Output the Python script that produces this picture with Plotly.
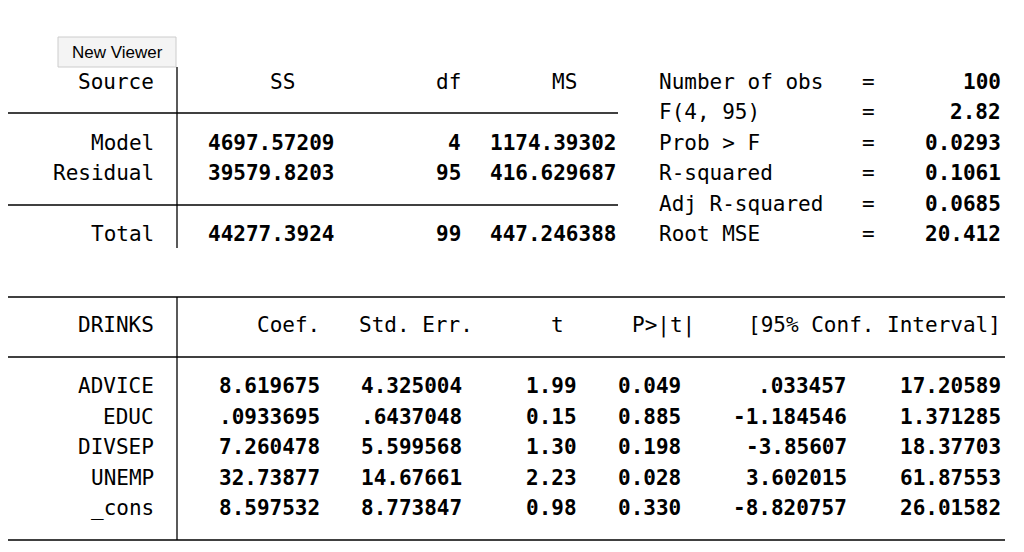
import plotly.graph_objects as go

command = ". reg DRINKS ADVICE EDUC DIVSEP UNEMP"
anova_sources = ["Model", "Residual", "Total"]
anova_ss = ["4697.57209", "39579.8203", "44277.3924"]
anova_df = ["4", "95", "99"]
anova_ms = ["1174.39302", "416.629687", "447.246388"]
stat_labels = ["Number of obs", "F(4, 95)", "Prob > F", "R-squared", "Adj R-squared", "Root MSE"]
stat_values = ["100", "2.82", "0.0293", "0.1061", "0.0685", "20.412"]
coef_vars = ["ADVICE", "EDUC", "DIVSEP", "UNEMP", "_cons"]
coef = ["8.619675", ".0933695", "7.260478", "32.73877", "8.597532"]
std_err = ["4.325004", ".6437048", "5.599568", "14.67661", "8.773847"]
t_vals = ["1.99", "0.15", "1.30", "2.23", "0.98"]
p_vals = ["0.049", "0.885", "0.198", "0.028", "0.330"]
ci_low = [".033457", "-1.184546", "-3.85607", "3.602015", "-8.820757"]
ci_high = ["17.20589", "1.371285", "18.37703", "61.87553", "26.01582"]

MONO = "DejaVu Sans Mono"
FS = 21
fig = go.Figure()
ann = []
def t(x, y, s, anchor="right", bold=False, size=FS, font=MONO):
    ann.append(dict(x=x, y=y, text=f"<b>{s}</b>" if bold else s, xanchor=anchor, yanchor="middle",
                    showarrow=False, font=dict(family=font, size=size, color="black"), xref="x", yref="y"))

t(4, 20, command, anchor="left", bold=True)
t(156, 82, "Source"); t(297, 82, "SS"); t(463, 82, "df"); t(579, 82, "MS")
anova_y = [143, 173, 234]
for i, y in enumerate(anova_y):
    t(156, y, anova_sources[i])
    t(336, y, anova_ss[i], bold=True)
    t(463, y, anova_df[i], bold=True)
    t(618, y, anova_ms[i], bold=True)
for i, (lab, val) in enumerate(zip(stat_labels, stat_values)):
    y = 82 + i * 30.4
    t(657, y, lab, anchor="left")
    t(868, y, "=", anchor="center")
    t(1003, y, val, bold=True)
t(156, 325, "DRINKS"); t(322, 325, "Coef."); t(475, 325, "Std. Err."); t(566, 325, "t")
t(697, 325, "P>|t|"); t(1003, 325, "[95% Conf. Interval]")
for i in range(len(coef_vars)):
    y = 386 + i * 30.5
    t(156, y, coef_vars[i])
    t(322, y, coef[i], bold=True)
    t(464, y, std_err[i], bold=True)
    t(579, y, t_vals[i], bold=True)
    t(683, y, p_vals[i], bold=True)
    t(849, y, ci_low[i], bold=True)
    t(1003, y, ci_high[i], bold=True)

t(117, 52, "New Viewer", anchor="center", size=17, font="Liberation Sans")

shapes = [
    dict(type="rect", x0=58, x1=176, y0=37, y1=67, fillcolor="#f4f4f4", line=dict(color="#cccccc", width=1), layer="below"),
    dict(type="line", x0=0, x1=618, y0=113, y1=113),
    dict(type="line", x0=0, x1=618, y0=205, y1=205),
    dict(type="line", x0=177, x1=177, y0=67, y1=248),
    dict(type="line", x0=0, x1=1005, y0=297, y1=297),
    dict(type="line", x0=0, x1=1005, y0=357, y1=357),
    dict(type="line", x0=0, x1=1005, y0=540, y1=540),
    dict(type="line", x0=177, x1=177, y0=297, y1=540),
]
for s in shapes:
    s.setdefault("line", dict(color="black", width=1.3))
    s["xref"] = "x"; s["yref"] = "y"

fig.update_layout(width=1024, height=552, margin=dict(l=0, r=0, t=0, b=0),
                  plot_bgcolor="white", paper_bgcolor="white",
                  xaxis=dict(range=[8, 1032], visible=False, fixedrange=True),
                  yaxis=dict(range=[560, 8], visible=False, fixedrange=True),
                  annotations=ann, shapes=shapes, showlegend=False)
fig.write_html("out.html", config={"displayModeBar": False})
